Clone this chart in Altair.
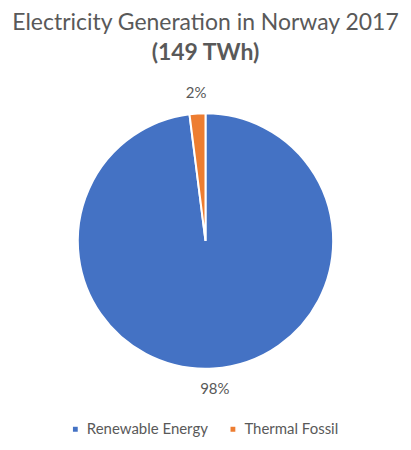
import pandas as pd
import altair as alt

# data
categories = ['Renewable Energy', 'Thermal Fossil']
shares = [98, 2]
labels = ['98%', '2%']
colors = ['#4472C4', '#ED7D31']

df = pd.DataFrame({'category': categories, 'share': shares,
                   'label': labels, 'idx': [0, 1]})

grey = '#595959'

base = alt.Chart(df).encode(
    theta=alt.Theta('share:Q', stack=True),
    order=alt.Order('idx:Q')
)

pie = base.mark_arc(outerRadius=128, stroke='white', strokeWidth=2).encode(
    color=alt.Color('category:N',
                    scale=alt.Scale(domain=categories, range=colors),
                    legend=alt.Legend(title=None, orient='none',
                                      direction='horizontal',
                                      legendX=60, legendY=352,
                                      symbolType='square', symbolSize=40,
                                      labelFont='Lato', labelFontSize=15,
                                      labelColor=grey, columnPadding=17,
                                      labelOffset=4))
)

text = base.mark_text(radius=149, font='Lato', fontSize=15, color=grey).encode(
    text='label:N'
)

chart = (pie + text).properties(
    width=396, height=342,
    padding={'top': 4, 'left': 0, 'right': 0, 'bottom': 0},
    title=alt.TitleParams(
        'Electricity Generation in Norway 2017',
        subtitle='(149 TWh)',
        anchor='middle', font='Lato', fontSize=23, fontWeight='normal',
        color=grey, subtitleFont='Lato', subtitleFontSize=23,
        subtitleFontWeight='bold', subtitleColor=grey, subtitlePadding=7,
        offset=5
    )
).configure_view(stroke=None)

chart.save("out.html", embed_options={"renderer": "svg", "actions": False})
